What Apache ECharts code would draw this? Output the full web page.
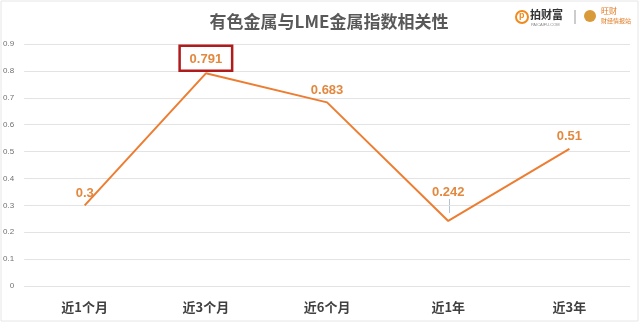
<!DOCTYPE html>
<html><head><meta charset="utf-8">
<script src="https://cdn.jsdelivr.net/npm/echarts@6/dist/echarts.min.js"></script>
<style>html,body{margin:0;padding:0;background:#fff}#c{width:640px;height:323px}</style>
</head><body><div id="c"></div>
<script>
const categories = ["近1个月","近3个月","近6个月","近1年","近3年"];
const values = [0.3, 0.791, 0.683, 0.242, 0.51];
const yTicks = [0,0.1,0.2,0.3,0.4,0.5,0.6,0.7,0.8,0.9];
const titleText = "有色金属与LME金属指数相关性";

const chart = echarts.init(document.getElementById('c'));
const data = values.map((v,i)=>{
  const d = {value: v};
  if (i === 1) {
    d.label = {borderColor:'#b01c1c', borderWidth:2.5, padding:[7,10,5,10], distance:2};
  }
  if (i === 3) {
    d.label = {distance:22};
  }
  return d;
});
chart.setOption({
  animation:false,
  backgroundColor:'#fff',
  title:{text:titleText,left:324,textAlign:'center',top:8,textStyle:{fontFamily:'Noto Sans CJK SC',fontSize:17,fontWeight:'bold',color:'#595959'}},
  grid:{left:22,right:10,top:44,bottom:37},
  xAxis:{type:'category',data:categories,boundaryGap:true,
    axisLine:{show:false},axisTick:{show:false},
    axisLabel:{margin:15,fontFamily:'Noto Sans CJK SC',fontSize:13,fontWeight:'bold',color:'#404040'}},
  yAxis:{type:'value',min:0,max:0.9,interval:0.1,
    axisLine:{show:false},axisTick:{show:false},
    splitLine:{lineStyle:{color:'#e3e3e3',width:1}},
    axisLabel:{margin:10,fontSize:8,color:'#707070',fontFamily:'Liberation Sans',
      formatter:v=>{const t=yTicks.find(x=>Math.abs(x-v)<1e-9);return t===0?'0':String(+v.toFixed(1));}}},
  series:[{type:'line',data:data,symbol:'circle',symbolSize:1,showSymbol:true,
    itemStyle:{color:'rgba(0,0,0,0)',borderWidth:0},
    lineStyle:{color:'#ed7d31',width:2},
    label:{show:true,position:'top',distance:5,color:'#e2883f',fontWeight:'bold',fontSize:13,fontFamily:'Liberation Sans',opacity:1}}],
  graphic:[
    {type:'line',shape:{x1:449.5,y1:199,x2:449.5,y2:213},style:{stroke:'#b0c4d8',lineWidth:1}},
    {type:'rect',shape:{x:1,y:1,width:637,height:320},style:{fill:'none',stroke:'#e6e6e6',lineWidth:1}},
    {type:'circle',shape:{cx:522,cy:17,r:6},style:{fill:'none',stroke:'#f08a1c',lineWidth:2}},
    {type:'text',left:519,top:11,style:{text:'p',fill:'#f08a1c',fontSize:9,fontWeight:'bold'}},
    {type:'text',left:530,top:9,style:{text:'拍财富',fill:'#333',fontSize:11,fontWeight:'bold',fontFamily:'Noto Sans CJK SC'}},
    {type:'text',left:531,top:23,style:{text:'PAICAIFU.COM',fill:'#888',fontSize:4}},
    {type:'line',shape:{x1:575,y1:10,x2:575,y2:24},style:{stroke:'#999',lineWidth:1}},
    {type:'circle',shape:{cx:590,cy:16,r:6},style:{fill:'#d99a3a'}},
    {type:'text',left:601,top:7,style:{text:'旺财',fill:'#e07a20',fontSize:8,fontFamily:'Noto Sans CJK SC'}},
    {type:'text',left:601,top:18,style:{text:'财经情报站',fill:'#e07a20',fontSize:6,fontFamily:'Noto Sans CJK SC'}}
  ]
});
</script></body></html>
